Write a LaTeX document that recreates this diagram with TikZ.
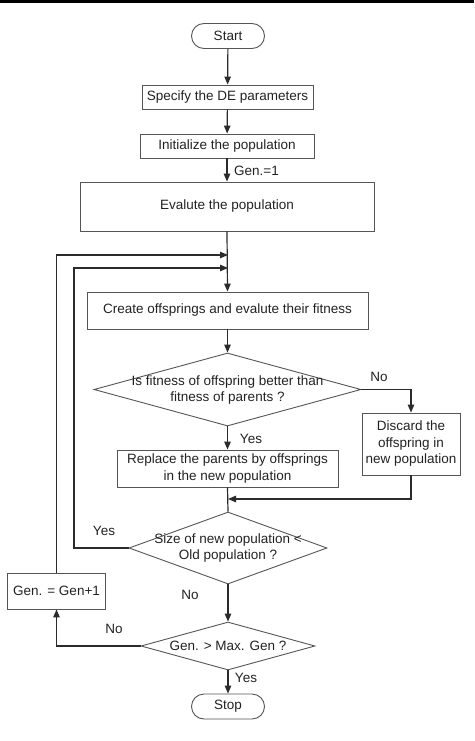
\documentclass[tikz,border=0pt]{standalone}
\usepackage{fontspec}
\setmainfont{Liberation Sans}
\usetikzlibrary{shapes.geometric,arrows.meta}
\definecolor{ln}{HTML}{2B2B2B}
\definecolor{bx}{HTML}{555555}
\definecolor{tx}{HTML}{222222}
\begin{document}
\begin{tikzpicture}[x=1pt,y=-1pt,
  every node/.style={font=\fontsize{13.5}{16.5}\selectfont,text=tx,inner sep=0pt},
  box/.style={draw=bx,line width=0.9pt,rectangle,align=center},
  term/.style={draw=bx,line width=0.9pt,rectangle,rounded corners=12.5pt,minimum width=73pt,minimum height=25pt},
  dia/.style={draw=bx,line width=0.9pt,diamond},
  arr/.style={draw=ln,line width=1.2pt,-{Triangle[length=8pt,width=6.5pt]}},
  con/.style={draw=ln,line width=1.2pt},
  lbl/.style={}]
\useasboundingbox (0,0) rectangle (474,741);
\fill[black] (0,0) rectangle (474,3.2);
% nodes
\node[term] (start) at (228,36) {Start};
\node[box,minimum width=171pt,minimum height=24pt] (spec) at (227.5,97) {Specify the DE parameters};
\node[box,minimum width=174pt,minimum height=24pt] (init) at (227,146) {Initialize the population};
\node[box,minimum width=294pt,minimum height=49pt] (eval) at (227,206.5) {Evalute the population};
\node[box,minimum width=281pt,minimum height=37pt] (create) at (227.5,310.5) {Create offsprings and evalute their fitness};
\node[dia,minimum width=267pt,minimum height=73pt] (d1) at (227.5,389.5) {};
\node[align=center] (d1t) at (227.5,390) {Is fitness of offspring better than\\fitness of parents ?};
\node[box,minimum width=98pt,minimum height=62pt] (disc) at (411,444) {Discard the\\offspring in\\new population};
\node[box,minimum width=221pt,minimum height=37pt] (rep) at (227.5,468.5) {Replace the parents by offsprings\\in the new population};
\node[dia,minimum width=198pt,minimum height=72pt] (d2) at (228,548) {};
\node[align=center] (d2t) at (228,548) {Size of new population <\\Old population ?};
\node[box,minimum width=98pt,minimum height=36pt] (gen) at (56.5,591) {Gen. = Gen+1};
\node[dia,minimum width=174pt,minimum height=48pt] (d3) at (228,646) {};
\node (d3t) at (228,646) {Gen. > Max. Gen ?};
\node[term] (stop) at (228,706.5) {Stop};
% labels
\node[anchor=west] (l1) at (234,171) {Gen.=1};
\node (l2) at (379,377) {No};
\node (l3) at (251,439) {Yes};
\node (l4) at (104,531) {Yes};
\node (l5) at (190,595) {No};
\node (l6) at (114,629) {No};
\node (l7) at (246,678) {Yes};
% helper coordinates
\coordinate (m1) at (228,255);
\coordinate (m2) at (228,268);
\coordinate (c2) at (74,268);
\coordinate (j) at (228,499);
% connectors
\draw[arr] (start) -- (spec);
\draw[arr] (spec) -- (init);
\draw[arr] (init) -- (eval);
\draw[arr] (eval.south) -- (create.north);
\draw[arr] (create) -- (d1.north);
\draw[arr] (d1.south) -- (rep.north);
\draw[arr] (d1.east) -| (disc.north);
\draw[arr] (disc.south) |- (j);
\draw[con] (rep.south) -- (d2.north);
\draw[arr] (d2.west) -| (c2) -- (m2);
\draw[arr] (d2.south) -- (d3.north);
\draw[arr] (d3.west) -| (gen.south);
\draw[arr] (gen.north) |- (m1);
\draw[arr] (d3.south) -- (stop.north);
\end{tikzpicture}
\end{document}
